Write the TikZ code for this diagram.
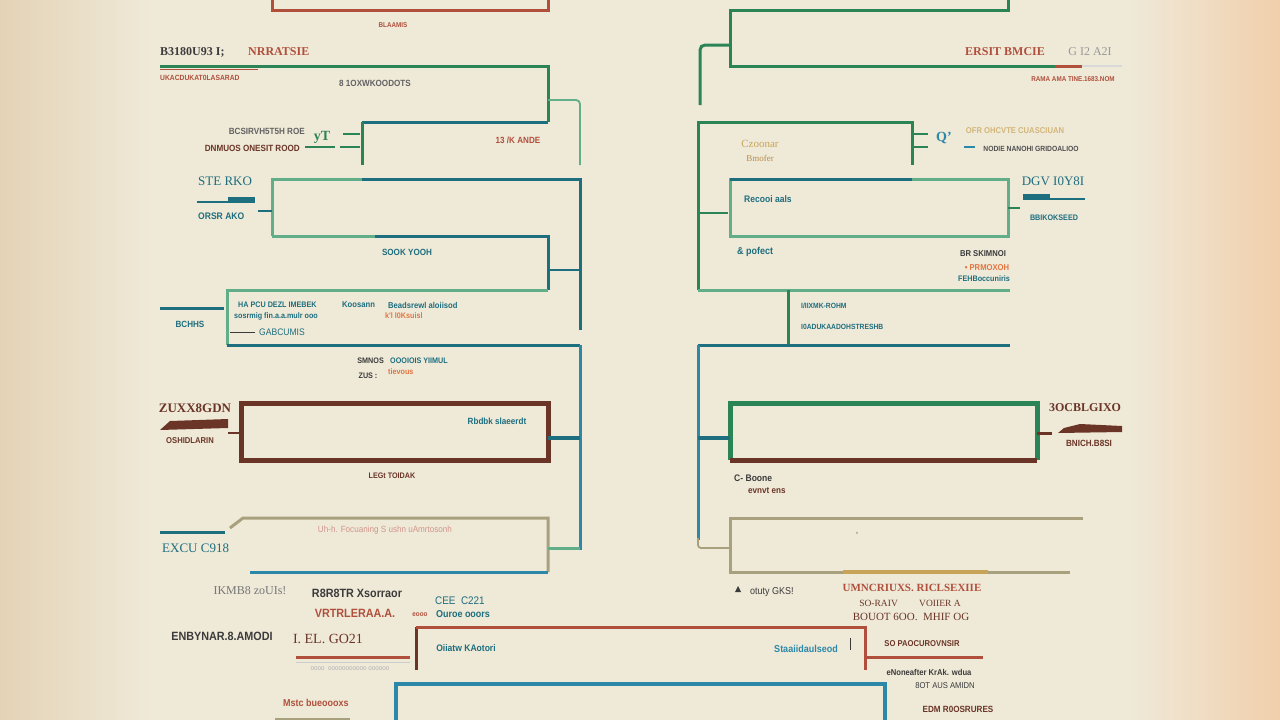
\documentclass[tikz,border=0pt]{standalone}
\usepackage{fontspec}
\setmainfont{Liberation Serif}
\setsansfont{Liberation Sans}
\newfontfamily\cond[FakeStretch=0.9]{Liberation Sans}
\definecolor{paper}{HTML}{EFE9D8}
\definecolor{tan}{HTML}{E4D3B6}
\definecolor{peach}{HTML}{F1CFAC}
\definecolor{grn}{HTML}{2B8456}
\definecolor{lgrn}{HTML}{62AE88}
\definecolor{teal}{HTML}{1D6E7E}
\definecolor{blu}{HTML}{2C88A8}
\definecolor{brn}{HTML}{6A3526}
\definecolor{redd}{HTML}{B0503C}
\definecolor{olive}{HTML}{A9A17E}
\definecolor{gold}{HTML}{C8A458}
\definecolor{ink}{HTML}{3B3B3B}
\definecolor{orng}{HTML}{E2743F}
\newcommand\fs[1]{\fontsize{#1}{#1}\selectfont}
\tikzset{
	lbl/.style={font=\cond\bfseries\fs{9}, inner sep=0pt, text=ink},
	ttl/.style={font=\rmfamily\bfseries\fs{12}, inner sep=0pt},
	wire/.style={line width=3pt},
	fat/.style={line width=5pt},
	thin/.style={line width=1.8pt}
}
\begin{document}
\begin{tikzpicture}[x=1pt,y=-1pt]
\useasboundingbox (0,0) rectangle (1280,720);
\fill[paper] (0,0) rectangle (1280,720);
\shade[left color=tan, right color=paper] (0,0) rectangle (150,720);
\shade[left color=paper, right color=peach] (1130,0) rectangle (1280,720);
% left column
\draw[redd, wire] (272,0) -- (272,10) -- (548,10) -- (548,0);
\draw[grn, wire] (160,66) -- (548,66) -- (548,122);
\draw[redd, line width=1pt] (160,69) -- (258,69);
\draw[teal, wire] (548,122) -- (362,122);
\draw[grn, wire] (362,122) -- (362,165);
\draw[lgrn, thin, rounded corners=4pt] (548,100) -- (580,100) -- (580,165);
\draw[grn, thin] (305,147) -- (335,147);
\draw[grn, thin] (340,147) -- (360,147);
\draw[grn, thin] (343,134) -- (360,134);
\draw[lgrn, wire] (272,236) -- (272,179) -- (362,179);
\draw[teal, wire] (362,179) -- (580,179) -- (580,330);
\draw[lgrn, wire] (272,236) -- (375,236);
\draw[teal, wire] (375,236) -- (548,236) -- (548,290);
\draw[teal, thin] (548,270) -- (580,270);
\draw[lgrn, wire] (548,290) -- (227,290) -- (227,345);
\draw[teal, wire] (227,345) -- (580,345);
\draw[blu, wire] (580,345) -- (580,550);
\draw[teal, wire] (160,308) -- (224,308);
\draw[ink, line width=0.8pt] (230,332) -- (255,332);
\draw[teal, line width=2pt] (197,202) -- (255,202);
\draw[teal, line width=5pt] (228,199) -- (255,199);
\draw[teal, thin] (258,211) -- (272,211);
\draw[brn, fat] (241,403) rectangle (548,460);
\draw[teal, line width=4pt] (548,438) -- (580,438);
\fill[brn] (170,421) -- (228,419) -- (228,428) -- (160,430) -- cycle;
\draw[brn, thin] (228,433) -- (241,433);
\draw[olive, wire] (230,528) -- (243,518) -- (548,518) -- (548,572);
\draw[teal, wire] (160,532) -- (225,532);
\draw[blu, wire] (250,572) -- (548,572);
\draw[lgrn, wire] (548,548) -- (580,548);
% bottom boxes
\draw[redd, wire] (296,657) -- (410,657);
\draw[gray!40, line width=1pt] (296,662) -- (410,662);
\draw[brn, wire] (416,627) -- (416,670);
\draw[redd, wire] (416,627) -- (865,627) -- (865,670);
\draw[redd, wire] (865,657) -- (983,657);
\draw[ink, line width=0.6pt] (850,638) -- (850,650);
\draw[blu, line width=4pt] (396,720) -- (396,684) -- (885,684) -- (885,720);
\draw[olive, thin] (275,719) -- (350,719);
% right column
\draw[grn, wire] (1008,0) -- (1008,10) -- (730,10) -- (730,66) -- (1055,66);
\draw[redd, wire] (1055,66) -- (1082,66);
\draw[gray!30, thin] (1082,66) -- (1122,66);
\draw[grn, wire, rounded corners=5pt] (730,45) -- (700,45) -- (700,105);
\draw[grn, wire] (698,290) -- (698,122) -- (912,122) -- (912,165);
\draw[grn, thin] (912,134) -- (928,134);
\draw[grn, thin] (912,147) -- (928,147);
\draw[blu, thin] (964,147) -- (975,147);
\draw[lgrn, wire] (730,179) rectangle (1008,236);
\draw[teal, wire] (730,179) -- (912,179);
\draw[grn, thin] (698,213) -- (728,213);
\draw[grn, thin] (1008,208) -- (1020,208);
\draw[teal, line width=2pt] (1023,199) -- (1085,199);
\draw[teal, line width=5pt] (1023,196) -- (1050,196);
\draw[lgrn, wire] (698,290) -- (1010,290);
\draw[grn, wire] (788,290) -- (788,345);
\draw[teal, wire] (698,345) -- (1010,345);
\draw[blu, wire] (698,345) -- (698,540);
\draw[grn, fat] (730,460) -- (730,403) -- (1037,403) -- (1037,460);
\draw[brn, fat] (730,460) -- (1037,460);
\draw[teal, line width=4pt] (698,438) -- (730,438);
\draw[brn, wire] (1037,433) -- (1052,433);
\fill[brn] (1064,428) -- (1080,424) -- (1122,426) -- (1122,432) -- (1058,433) -- cycle;
\draw[olive, wire] (1083,518) -- (730,518) -- (730,572) -- (1070,572);
\draw[gold, line width=4pt] (843,572) -- (988,572);
\draw[olive, thin, rounded corners=3pt] (698,538) -- (698,548) -- (730,548);
\fill[ink] (735,592) -- (741,592) -- (738,586) -- cycle;
% texts, left
\node[lbl, text=redd, font=\cond\bfseries\fs{7}] (boxA) at (393,25) {BLAAMIS};
\node[ttl, text=ink, anchor=west] (titleA) at (160,52) {B3180U93 I;};
\node[ttl, text=redd, anchor=west] (titleB) at (248,52) {NRRATSIE};
\node[lbl, text=redd, anchor=west, font=\cond\bfseries\fs{7.5}] (subA) at (160,78) {UKACDUKAT0LASARAD};
\node[lbl, text=ink!80] (noteA) at (375,83) {8 1OXWKOODOTS};
\node[lbl, text=ink!80, anchor=east] (leftB) at (305,131) {BCSIRVH5T5H ROE};
\node[lbl, text=brn, anchor=east] (leftC) at (300,148) {DNMUOS ONESIT ROOD};
\node[ttl, text=grn, font=\rmfamily\bfseries\fs{14}] (glyph) at (322,137) {yT};
\node[lbl, text=redd] (noteB) at (518,140) {13 /K ANDE};
\node[ttl, text=teal, font=\rmfamily\fs{13}, anchor=west] (steA) at (198,181) {STE RKO};
\node[lbl, text=teal, anchor=west, font=\cond\bfseries\fs{9.5}] (steB) at (198,216) {ORSR AKO};
\node[lbl, text=teal] (noteC) at (407,252) {SOOK YOOH};
\node[lbl, text=teal] (bchA) at (190,324) {BCHHS};
\node[lbl, text=teal, anchor=west, font=\cond\bfseries\fs{8}] (inA) at (238,305) {HA PCU DEZL IMEBEK};
\node[lbl, text=teal, anchor=west, font=\cond\bfseries\fs{8.5}] (inB) at (342,305) {Koosann};
\node[lbl, text=teal, anchor=west, font=\cond\bfseries\fs{8.5}] (inC) at (388,305) {Beadsrewl aloiisod};
\node[lbl, text=teal, anchor=west, font=\cond\bfseries\fs{8}] (inD) at (234,316) {sosrmig fin.a.a.mulr ooo};
\node[lbl, text=orng, anchor=west, font=\cond\bfseries\fs{8}] (inE) at (385,316) {k'l l0Ksuisl};
\node[lbl, text=teal, anchor=west, font=\cond\fs{9.5}] (inF) at (259,332) {GABCUMIS};
\node[lbl, anchor=east, font=\cond\bfseries\fs{8}] (midA) at (384,361) {SMNOS};
\node[lbl, text=teal, anchor=west, font=\cond\bfseries\fs{8}] (midB) at (390,361) {OOOIOIS YIIMUL};
\node[lbl, font=\cond\bfseries\fs{8}] (midC) at (368,376) {ZUS :};
\node[lbl, text=orng, anchor=west, font=\cond\bfseries\fs{8}] (midD) at (388,372) {tievous};
\node[ttl, text=brn, font=\rmfamily\bfseries\fs{13}] (zuA) at (195,408) {ZUXX8GDN};
\node[lbl, text=brn, font=\cond\bfseries\fs{8.5}] (zuB) at (190,441) {OSHIDLARIN};
\node[lbl, text=teal] (boxB) at (497,421) {Rbdbk slaeerdt};
\node[lbl, text=brn, font=\cond\bfseries\fs{8}] (boxC) at (392,476) {LEGt TOIDAK};
\node[lbl, text=redd!60, font=\cond\fs{9}] (boxD) at (385,530) {Uh-h. Focuaning S ushn uAmrtosonh};
\node[ttl, text=teal, font=\rmfamily\fs{13}, anchor=west] (exA) at (162,548) {EXCU C918};
% texts, bottom
\node[lbl, text=ink!70, font=\rmfamily\fs{12}] (botA) at (250,591) {IKMB8 zoUIs!};
\node[lbl, font=\cond\bfseries\fs{12}] (botB) at (357,593) {R8R8TR Xsorraor};
\node[lbl, text=teal, font=\cond\fs{11}] (botC) at (460,601) {CEE \ C221};
\node[lbl, text=redd, font=\cond\bfseries\fs{12}] (botD) at (355,613) {VRTRLERAA.A.};
\node[lbl, text=redd, font=\cond\bfseries\fs{7}] (botE) at (420,615) {eooo};
\node[lbl, text=teal, font=\cond\bfseries\fs{10}] (botF) at (463,614) {Ouroe ooors};
\node[lbl, font=\cond\bfseries\fs{12}] (botG) at (222,636) {ENBYNAR.8.AMODI};
\node[lbl, text=brn, font=\rmfamily\fs{14}] (botH) at (328,639) {I. EL. GO21};
\node[lbl, text=gray!60, font=\cond\fs{7}] (botI) at (350,669) {oooo \ ooooooooooo oooooo};
\node[lbl, text=teal, font=\cond\bfseries\fs{9.5}] (botJ) at (466,648) {Oiiatw KAotori};
\node[lbl, text=blu, font=\cond\bfseries\fs{10}] (botK) at (806,649) {Staaiidaulseod};
\node[lbl, text=redd, font=\cond\bfseries\fs{10}] (botL) at (316,703) {Mstc bueoooxs};
% texts, right
\node[ttl, text=redd] (erA) at (1005,52) {ERSIT BMCIE};
\node[ttl, text=gray!80, font=\rmfamily\fs{12}] (erB) at (1090,52) {G I2 A2I};
\node[lbl, text=redd, font=\cond\bfseries\fs{7}] (erC) at (1073,79) {RAMA AMA TINE.1683.NOM};
\node[lbl, text=gold, font=\rmfamily\fs{11}] (czA) at (760,144) {Czoonar};
\node[lbl, text=gold!80!brn, font=\rmfamily\fs{9}] (czB) at (760,158) {Bmofer};
\node[ttl, text=blu, font=\rmfamily\bfseries\fs{14}] (qA) at (944,138) {Q'};
\node[lbl, text=gold!80, font=\cond\bfseries\fs{8.5}] (qB) at (1015,131) {OFR OHCVTE CUASCIUAN};
\node[lbl, text=ink!90, font=\cond\bfseries\fs{7.5}] (qC) at (1031,149) {NODIE NANOHI GRIDOALIOO};
\node[lbl, text=teal, anchor=west, font=\cond\bfseries\fs{9.5}] (reA) at (744,199) {Recooi aals};
\node[ttl, text=teal, font=\rmfamily\fs{13}] (dgA) at (1053,181) {DGV I0Y8I};
\node[lbl, text=teal, font=\cond\bfseries\fs{8}] (dgB) at (1054,218) {BBIKOKSEED};
\node[lbl, text=teal, anchor=west, font=\cond\bfseries\fs{10}] (pfA) at (737,252) {\& pofect};
\node[lbl, font=\cond\bfseries\fs{8.5}] (skA) at (983,254) {BR SKIMNOI};
\node[lbl, text=orng, font=\cond\bfseries\fs{8.5}] (skB) at (987,268) {• PRMOXOH};
\node[lbl, text=teal, font=\cond\bfseries\fs{8}] (skC) at (984,279) {FEHBoccuniris};
\node[lbl, text=teal, anchor=west, font=\cond\bfseries\fs{7.5}] (rmA) at (801,306) {I/IIXMK-ROHM};
\node[lbl, text=teal, anchor=west, font=\cond\bfseries\fs{7.5}] (rmB) at (801,327) {I0ADUKAADOHSTRESHB};
\node[ttl, text=brn, font=\rmfamily\bfseries\fs{12}] (ocA) at (1085,408) {3OCBLGIXO};
\node[lbl, text=brn] (ocB) at (1089,443) {BNICH.B8SI};
\node[lbl, anchor=west, font=\cond\bfseries\fs{9.5}] (boA) at (734,478) {C- Boone};
\node[lbl, text=brn, anchor=west] (boB) at (748,491) {evnvt ens};
\node[lbl, text=ink!60] (tick) at (857,535) {'};
\node[lbl, anchor=west, font=\cond\fs{10}] (otA) at (750,592) {otuty GKS!};
\node[lbl, text=redd, font=\rmfamily\bfseries\fs{11}] (umA) at (912,588) {UMNCRIUXS. RICLSEXIIE};
\node[lbl, text=brn, font=\rmfamily\fs{9.5}] (umB) at (910,603) {SO-RAIV \qquad VOIIER A};
\node[lbl, text=brn, font=\rmfamily\fs{11}] (umC) at (911,617) {BOUOT 6OO. \ MHIF OG};
\node[lbl, text=brn, font=\cond\bfseries\fs{8.5}] (umD) at (922,644) {SO PAOCUROVNSIR};
\node[lbl, font=\cond\bfseries\fs{8.5}] (enA) at (929,672) {eNoneafter KrAk. wdua};
\node[lbl, font=\cond\fs{8.5}] (enB) at (945,686) {8OT AUS AMIDN};
\node[lbl, text=brn, font=\cond\bfseries\fs{9}] (enC) at (958,709) {EDM R0OSRURES};
\end{tikzpicture}
\end{document}
